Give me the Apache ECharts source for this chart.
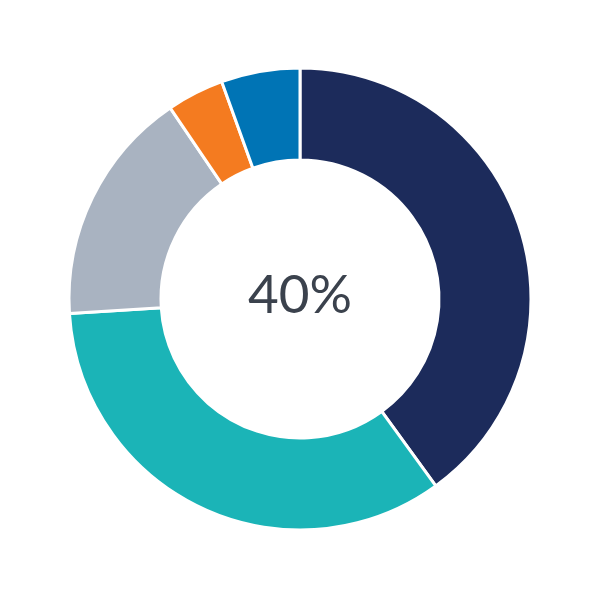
<!DOCTYPE html>
<html>
<head>
<meta charset="utf-8">
<script src="https://cdn.jsdelivr.net/npm/echarts@6/dist/echarts.min.js"></script>
<style>
html,body{margin:0;padding:0;background:#fff;}
#c{width:600px;height:599px;}
</style>
</head>
<body>
<div id="c"></div>
<script>
const categories = ['A', 'B', 'C', 'D', 'E'];
const values = [40, 34, 16.5, 4, 5.5];
const colors = ['#1c2b5b', '#1bb4b7', '#a9b3c1', '#f47b20', '#0074b5'];
const centerLabel = '40%';

const chart = echarts.init(document.getElementById('c'), null, {renderer: 'canvas'});
chart.setOption({
  animation: false,
  graphic: [{
    type: 'text',
    left: 'center',
    top: 269,
    style: {
      text: centerLabel,
      font: '400 53px Lato, sans-serif',
      fill: '#3b424d',
      textAlign: 'center'
    }
  }],
  series: [{
    type: 'pie',
    center: [300, 299],
    radius: [139, 231],
    startAngle: 90,
    clockwise: true,
    label: {show: false},
    labelLine: {show: false},
    emphasis: {disabled: true},
    itemStyle: {borderColor: '#ffffff', borderWidth: 3},
    data: categories.map((c, i) => ({name: c, value: values[i], itemStyle: {color: colors[i]}}))
  }]
});
</script>
</body>
</html>
